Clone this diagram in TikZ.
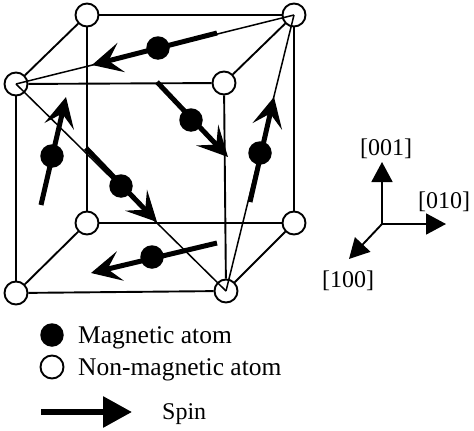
\documentclass[tikz,border=0pt]{standalone}
\usepackage{fontspec}
\setmainfont{Liberation Serif}
\usetikzlibrary{arrows.meta}
\begin{document}
\begin{tikzpicture}[
    x=1pt,y=-1pt,
    openatom/.style={circle,draw=black,fill=white,line width=1.9pt,inner sep=0pt,minimum size=23pt},
    magatom/.style={circle,fill=black,inner sep=0pt,minimum size=23.5pt},
    edge/.style={line width=1.9pt},
    thinedge/.style={line width=1.5pt},
    spin/.style={line width=5pt,-{Stealth[length=30pt,width=30pt,inset=13pt]}},
    axis/.style={line width=1.9pt,-{Triangle[length=20pt,width=21pt]}},
    lbl/.style={font=\fontsize{24}{28}\selectfont,inner sep=0pt},
    keylbl/.style={font=\fontsize{25.5}{30}\selectfont,inner sep=0pt,anchor=base west}
  ]
    \useasboundingbox (0,0) rectangle (474,431);
    % non-magnetic atoms
    \node[openatom] (btl) at (87,15) {};
    \node[openatom] (btr) at (294,15) {};
    \node[openatom] (ftl) at (16,84) {};
    \node[openatom] (ftr) at (224,83) {};
    \node[openatom] (bbl) at (87,223) {};
    \node[openatom] (bbr) at (294,223) {};
    \node[openatom] (fbl) at (16,293) {};
    \node[openatom] (fbr) at (226,291) {};
    % cube
    \draw[edge] (btl) -- (btr);
    \draw[edge] (btl) -- (ftl);
    \draw[edge] (btr) -- (ftr);
    \draw[edge] (ftl) -- (ftr);
    \draw[edge] (btl) -- (bbl);
    \draw[edge] (btr) -- (bbr);
    \draw[edge] (ftl) -- (fbl);
    \draw[edge] (ftr) -- (fbr);
    \draw[edge] (bbl) -- (bbr);
    \draw[edge] (bbl) -- (fbl);
    \draw[edge] (bbr) -- (fbr);
    \draw[edge] (fbl) -- (fbr);
    \draw[thinedge] (ftl.center) -- (btr.center);
    \draw[thinedge] (btr.center) -- (fbr.center);
    \draw[thinedge] (ftl.center) -- (fbr.center);
    % spins
    \coordinate (s1a) at (217,33);
    \coordinate (s1b) at (92,65);
    \coordinate (s2a) at (157,82);
    \coordinate (s2b) at (228,157);
    \coordinate (s3a) at (41,205);
    \coordinate (s3b) at (66,97);
    \coordinate (s4a) at (250,202);
    \coordinate (s4b) at (274,97);
    \coordinate (s5a) at (86,148);
    \coordinate (s5b) at (157,222);
    \coordinate (s6a) at (217,243);
    \coordinate (s6b) at (91,273);
    \draw[spin] (s1a) -- (s1b);
    \draw[spin] (s2a) -- (s2b);
    \draw[spin] (s3a) -- (s3b);
    \draw[spin] (s4a) -- (s4b);
    \draw[spin] (s5a) -- (s5b);
    \draw[spin] (s6a) -- (s6b);
    % magnetic atoms
    \node[magatom] (m1) at (158,48) {};
    \node[magatom] (m2) at (191,120) {};
    \node[magatom] (m3) at (52,156) {};
    \node[magatom] (m4) at (260,153) {};
    \node[magatom] (m5) at (121,186) {};
    \node[magatom] (m6) at (152,257) {};
    % axes
    \coordinate (org) at (382,224);
    \coordinate (ax001) at (382,162);
    \coordinate (ax010) at (446,224);
    \coordinate (ax100) at (349,259);
    \draw[axis] (org) -- (ax001);
    \draw[axis] (org) -- (ax010);
    \draw[axis] (org) -- (ax100);
    \node[lbl] (l001) at (386,149) {[001]};
    \node[lbl] (l010) at (444,202) {[010]};
    \node[lbl] (l100) at (348,281) {[100]};
    % legend
    \node[magatom] (kmag) at (52,335) {};
    \node[openatom] (kopen) at (52,367) {};
    \node[keylbl] (tmag) at (78,343) {Magnetic atom};
    \node[keylbl] (topen) at (78,375) {Non-magnetic atom};
    \coordinate (ka) at (41,412);
    \coordinate (kb) at (132,412);
    \draw[line width=6pt,-{Stealth[length=29pt,width=30pt,inset=0pt]}] (ka) -- (kb);
    \node[lbl,anchor=base west] (tspin) at (162,419) {Spin};
\end{tikzpicture}
\end{document}
